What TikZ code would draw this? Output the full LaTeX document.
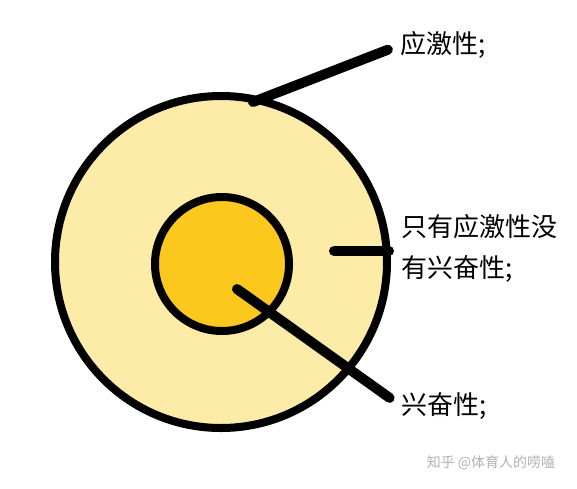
\documentclass[tikz,border=0pt]{standalone}
\usepackage{fontspec}
\newfontfamily\cjk{Noto Sans CJK SC}
\usetikzlibrary{positioning}
\definecolor{shellyellow}{RGB}{253,235,168}
\definecolor{coreyellow}{RGB}{252,200,30}
\tikzset{
    ring/.style = {circle, draw=black, line width=8pt, inner sep=0pt},
    pointer/.style = {line width=10pt, line cap=round},
    tag/.style = {anchor=west, inner sep=0pt, align=left, font=\cjk\fontsize{26}{41}\selectfont},
}
\begin{document}
\begin{tikzpicture}[x=1pt, y=-1pt]
    \useasboundingbox[fill=white] (0,0) rectangle (577,488);

    % the two circles
    \node[ring, fill=shellyellow, minimum size=332pt] (outer) at (221,262) {};
    \node[ring, fill=coreyellow, minimum size=134pt] (inner) at (222,264) {};

    % labels
    \node[tag] (irritable) at (400,45) {应激性;};
    \node[tag] (onlyirr) at (401,248) {只有应激性没\\有兴奋性;};
    \node[tag] (excitable) at (401,406) {兴奋性;};

    % free ends of the pointers
    \coordinate (rimpt) at (253,102);
    \coordinate (shellpt) at (334,251);
    \coordinate (corept) at (237,289);

    \draw[pointer, shorten >=13pt] (rimpt) -- (irritable.west);
    \draw[pointer] (shellpt) -- (389,251);
    \draw[pointer, shorten >=14pt] (corept) -- (excitable.west);

    % watermark
    \node[font=\cjk\fontsize{14}{16}\selectfont, text=black!30, inner sep=0pt] (mark) at (491,463) {知乎 @体育人的唠嗑};
\end{tikzpicture}
\end{document}
